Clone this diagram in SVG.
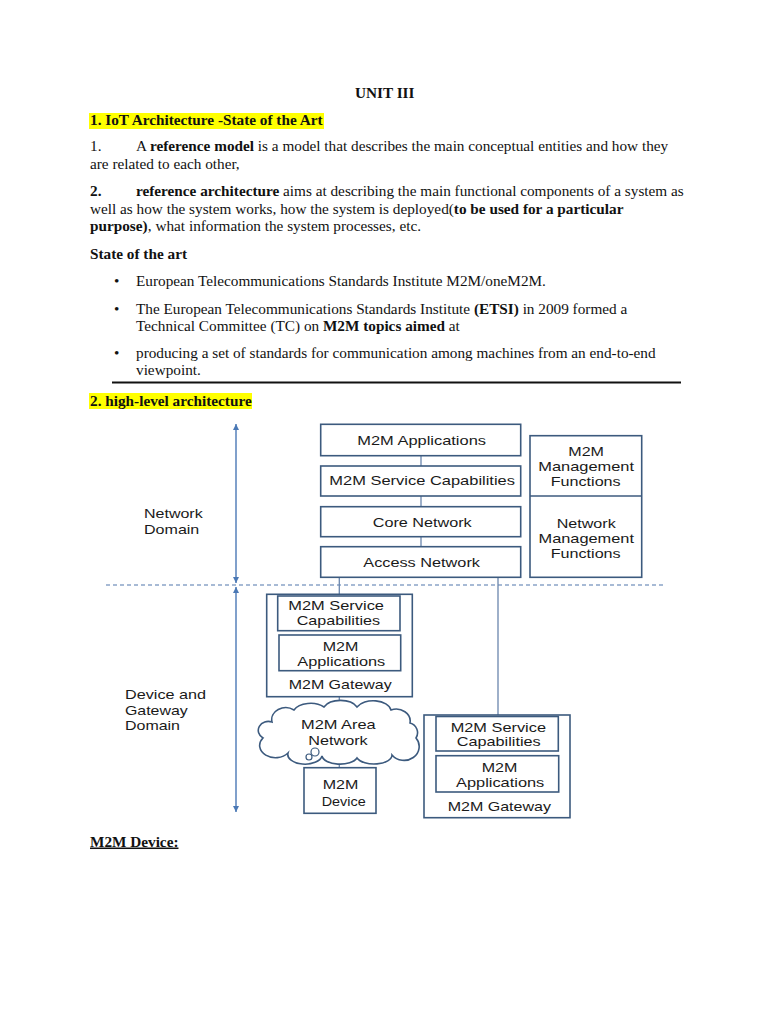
<svg xmlns="http://www.w3.org/2000/svg" width="768" height="1024" viewBox="0 0 768 1024">
<style>
.body{font-family:"Liberation Serif","Times New Roman",serif;font-size:15.25px;fill:#111}
.b{font-weight:bold}
.hl{fill:#ffff00}
.box{fill:#fff;stroke:#3c5a7e;stroke-width:1.6}
.dt{font-family:"Liberation Sans",Arial,sans-serif;font-size:13px;fill:#1a1a1a}
.con{stroke:#6a86ad;stroke-width:1.3;fill:none}
.arr{stroke:#4a78b5;stroke-width:1.4;fill:none}
.dash{stroke:#8aa4c8;stroke-width:1.3;stroke-dasharray:4 3;fill:none}
</style>
<defs>
<marker id="ah" viewBox="0 0 10 10" refX="10" refY="5" markerUnits="userSpaceOnUse" markerWidth="6" markerHeight="7" orient="auto-start-reverse">
<path d="M0,0 L10,5 L0,10 z" fill="#4a78b5"/>
</marker>
</defs>
<rect width="768" height="1024" fill="#fff"/>

<g id="text">
<text class="body b" x="355" y="98">UNIT III</text>
<rect class="hl" x="89" y="113" width="235" height="16"/>
<text class="body b" x="90" y="125">1. IoT Architecture -State of the Art</text>
<text class="body" x="90" y="151">1.</text>
<text class="body" x="136" y="151">A <tspan class="b">reference model</tspan> is a model that describes the main conceptual entities and how they</text>
<text class="body" x="90" y="168.5">are related to each other,</text>
<text class="body b" x="90" y="196">2.</text>
<text class="body" x="136" y="196"><tspan class="b">reference architecture</tspan> aims at describing the main functional components of a system as</text>
<text class="body" x="90" y="213.5">well as how the system works, how the system is deployed(<tspan class="b">to be used for a particular</tspan></text>
<text class="body" x="90" y="231"><tspan class="b">purpose)</tspan>,<tspan dx="4">what information the system processes, etc.</tspan></text>
<text class="body b" x="90" y="259">State of the art</text>
<text class="body" x="114" y="286">•</text>
<text class="body" x="136" y="286">European Telecommunications Standards Institute M2M/oneM2M.</text>
<text class="body" x="114" y="313.5">•</text>
<text class="body" x="136" y="313.5">The European Telecommunications Standards Institute <tspan class="b">(ETSI)</tspan> in 2009 formed a</text>
<text class="body" x="136" y="330.5">Technical Committee (TC) on <tspan class="b">M2M topics aimed</tspan> at</text>
<text class="body" x="114" y="358">•</text>
<text class="body" x="136" y="358">producing a set of standards for communication among machines from an end-to-end</text>
<text class="body" x="136" y="375">viewpoint.</text>
<line x1="112" y1="382.5" x2="681" y2="382.5" stroke="#111" stroke-width="2"/>
<rect class="hl" x="89" y="393" width="163" height="16"/>
<text class="body b" x="90" y="405.5">2. high-level architecture</text>
<text class="body b" x="90" y="846.5" text-decoration="underline">M2M Device:</text>
</g>

<g id="connectors">
<line class="dash" x1="106" y1="585" x2="663" y2="585"/>
<line class="arr" x1="236" y1="424" x2="236" y2="583" marker-start="url(#ah)" marker-end="url(#ah)"/>
<line class="arr" x1="236" y1="587" x2="236" y2="812" marker-start="url(#ah)" marker-end="url(#ah)"/>
<line class="con" x1="421" y1="455.7" x2="421" y2="466"/>
<line class="con" x1="421" y1="496" x2="421" y2="506.7"/>
<line class="con" x1="421" y1="536.7" x2="421" y2="546.7"/>
<line class="con" x1="339.3" y1="577.3" x2="339.3" y2="594.3"/>
<line class="con" x1="498" y1="577.3" x2="498" y2="715"/>
<line class="con" x1="339.3" y1="696.7" x2="339.3" y2="708"/>
<line class="con" x1="339.3" y1="758" x2="339.3" y2="767.7"/>
</g>

<g id="domain-labels">
<text class="dt" x="144" y="518.3" textLength="58.7" lengthAdjust="spacingAndGlyphs">Network</text>
<text class="dt" x="144" y="534.3" textLength="55.3" lengthAdjust="spacingAndGlyphs">Domain</text>
<text class="dt" x="125" y="699" textLength="81" lengthAdjust="spacingAndGlyphs">Device and</text>
<text class="dt" x="125" y="714.7" textLength="62.7" lengthAdjust="spacingAndGlyphs">Gateway</text>
<text class="dt" x="125" y="730" textLength="55" lengthAdjust="spacingAndGlyphs">Domain</text>
</g>

<g id="m2m-applications">
<rect class="box" x="320.7" y="424.3" width="200" height="31.4"/>
<text class="dt" x="357.3" y="444.6" textLength="128.7" lengthAdjust="spacingAndGlyphs">M2M Applications</text>
</g>
<g id="m2m-service-capabilities">
<rect class="box" x="320.7" y="466" width="200" height="30"/>
<text class="dt" x="329.3" y="485" textLength="185.7" lengthAdjust="spacingAndGlyphs">M2M Service Capabilities</text>
</g>
<g id="core-network">
<rect class="box" x="320.7" y="506.7" width="200" height="30"/>
<text class="dt" x="372.7" y="526.5" textLength="99" lengthAdjust="spacingAndGlyphs">Core Network</text>
</g>
<g id="access-network">
<rect class="box" x="320.7" y="546.7" width="200" height="30.6"/>
<text class="dt" x="363.3" y="566.7" textLength="116.7" lengthAdjust="spacingAndGlyphs">Access Network</text>
</g>

<g id="management-functions">
<rect class="box" x="530" y="435.7" width="111.7" height="141.6"/>
<line x1="530" y1="496" x2="641.7" y2="496" stroke="#3c5a7e" stroke-width="1.6"/>
<text class="dt" x="568.3" y="455.5" textLength="35.7" lengthAdjust="spacingAndGlyphs">M2M</text>
<text class="dt" x="538.3" y="470.5" textLength="95.7" lengthAdjust="spacingAndGlyphs">Management</text>
<text class="dt" x="550.7" y="485.5" textLength="70" lengthAdjust="spacingAndGlyphs">Functions</text>
<text class="dt" x="556.7" y="527.5" textLength="59" lengthAdjust="spacingAndGlyphs">Network</text>
<text class="dt" x="538.5" y="542.5" textLength="95.5" lengthAdjust="spacingAndGlyphs">Management</text>
<text class="dt" x="550.7" y="557.5" textLength="70" lengthAdjust="spacingAndGlyphs">Functions</text>
</g>

<g id="m2m-gateway-1">
<rect class="box" x="266.7" y="594.3" width="145.6" height="102.4"/>
<rect class="box" x="277.7" y="596" width="122.3" height="34.7"/>
<rect class="box" x="279" y="635" width="121.7" height="35.7"/>
<text class="dt" x="288.3" y="610" textLength="95.7" lengthAdjust="spacingAndGlyphs">M2M Service</text>
<text class="dt" x="296.7" y="624.5" textLength="83.3" lengthAdjust="spacingAndGlyphs">Capabilities</text>
<text class="dt" x="322.7" y="651" textLength="35.6" lengthAdjust="spacingAndGlyphs">M2M</text>
<text class="dt" x="297.3" y="666" textLength="88" lengthAdjust="spacingAndGlyphs">Applications</text>
<text class="dt" x="288.7" y="689.3" textLength="103" lengthAdjust="spacingAndGlyphs">M2M Gateway</text>
</g>

<g id="m2m-area-network">
<path class="box" d="M272 722 A14 12 0 0 1 294 710 A18 11 0 0 1 324 707 A18 11 0 0 1 357 707 A18 11 0 0 1 391 710 A14 12 0 0 1 410 723 A10 10 0 0 1 416 738 A12 11 0 0 1 392 755 A18 9 0 0 1 357 758 A18 9 0 0 1 322 756 A16 9 0 0 1 288 753 A13 10 0 0 1 263 738 A10 9 0 0 1 272 722 Z"/>
<circle cx="315" cy="752" r="4" fill="#fff" stroke="#3c5a7e" stroke-width="1.2"/>
<circle cx="309" cy="757" r="3" fill="#fff" stroke="#3c5a7e" stroke-width="1.2"/>
<text class="dt" x="301" y="729.3" textLength="74.7" lengthAdjust="spacingAndGlyphs">M2M Area</text>
<text class="dt" x="308.3" y="745" textLength="59.4" lengthAdjust="spacingAndGlyphs">Network</text>
</g>

<g id="m2m-device">
<rect class="box" x="304" y="767.7" width="72" height="45.6"/>
<text class="dt" x="322.7" y="789.3" textLength="35.6" lengthAdjust="spacingAndGlyphs">M2M</text>
<text class="dt" x="321.7" y="805.7" textLength="44" lengthAdjust="spacingAndGlyphs">Device</text>
</g>

<g id="m2m-gateway-2">
<rect class="box" x="424" y="715" width="146" height="102.7"/>
<rect class="box" x="436" y="716.5" width="122.3" height="34.5"/>
<rect class="box" x="436" y="755.7" width="122.7" height="36.3"/>
<text class="dt" x="450.7" y="731.7" textLength="95.3" lengthAdjust="spacingAndGlyphs">M2M Service</text>
<text class="dt" x="456.7" y="746" textLength="84" lengthAdjust="spacingAndGlyphs">Capabilities</text>
<text class="dt" x="481.7" y="772.3" textLength="35.6" lengthAdjust="spacingAndGlyphs">M2M</text>
<text class="dt" x="456" y="787.3" textLength="88.3" lengthAdjust="spacingAndGlyphs">Applications</text>
<text class="dt" x="447.7" y="810.7" textLength="103.3" lengthAdjust="spacingAndGlyphs">M2M Gateway</text>
</g>
</svg>
